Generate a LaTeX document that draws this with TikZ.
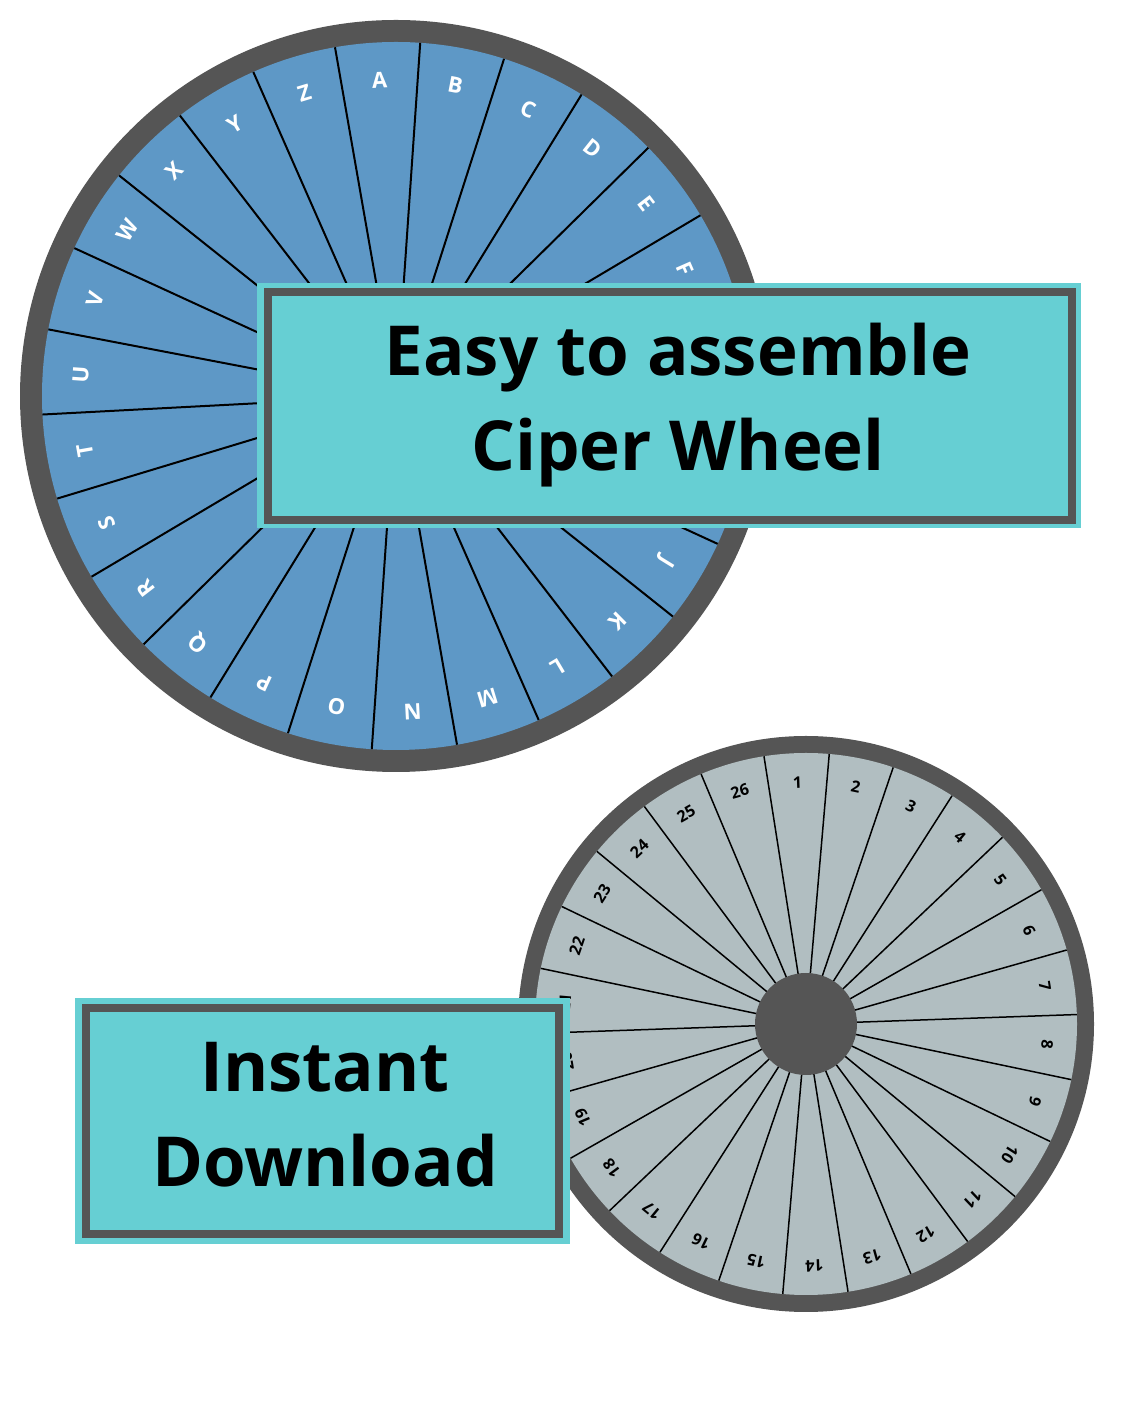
\documentclass[tikz,border=0pt]{standalone}
\usetikzlibrary{calc}
\usepackage{fontspec}
\setmainfont{Open Sans}
\definecolor{cy}{HTML}{66CFD3}
\definecolor{dg}{HTML}{555555}
\definecolor{bl}{HTML}{5E98C6}
\definecolor{lg}{HTML}{B1BEC1}
\tikzset{
 banner/.style={fill=cy,draw=dg,line width=8pt},
 lett/.style={text=white,font=\bfseries\fontsize{22}{22}\selectfont},
 numb/.style={text=black,font=\bfseries\fontsize{16}{16}\selectfont},
 title/.style={font=\bfseries\fontsize{69}{95}\selectfont,align=center}
}
\begin{document}
\begin{tikzpicture}[x=1pt,y=1pt]
\useasboundingbox (0,0) rectangle (1140,1425);
% big wheel
\coordinate (B) at (396,1029);
\fill[dg] (B) circle (376);
\fill[bl] (B) circle (354);
\foreach \i in {0,...,25}{
  \draw[line width=2pt] (B) -- ++({93-(\i+0.5)*360/26}:354);
}
\foreach \l [count=\i from 0] in {A,B,C,D,E,F,G,H,I,J,K,L,M,N,O,P,Q,R,S,T,U,V,W,X,Y,Z}{
  \node[lett,rotate={3-\i*360/26}] (L\i) at ($(B)+({93-\i*360/26}:316)$) {\l};
}
% small wheel
\coordinate (S) at (806,401);
\fill[dg] (S) circle (288);
\fill[lg] (S) circle (271);
\foreach \i in {0,...,25}{
  \draw[line width=1.5pt] (S) -- ++({92-(\i+0.5)*360/26}:271);
}
\foreach \i in {1,...,26}{
  \node[numb,rotate={2-(\i-1)*360/26}] (N\i) at ($(S)+({92-(\i-1)*360/26}:242)$) {\i};
}
\fill[dg] (S) circle (51);
% banners
\fill[cy] (257,897) rectangle (1081,1142);
\draw[banner] (268,905) rectangle (1072,1133);
\node[title] (t1) at (678,1020) {Easy to assemble\\Ciper Wheel};
\fill[cy] (75,181) rectangle (570,427);
\draw[banner] (86,191) rectangle (559,417);
\node[title] (t2) at (325,310) {Instant\\Download};
\end{tikzpicture}
\end{document}
